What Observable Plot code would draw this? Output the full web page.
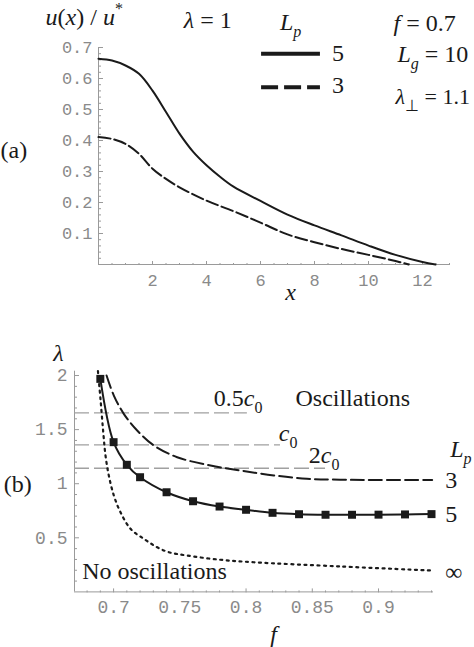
<!DOCTYPE html>
<html><head><meta charset="utf-8">
<script src="https://cdn.jsdelivr.net/npm/d3@7"></script>
<script src="https://cdn.jsdelivr.net/npm/@observablehq/plot@0.6"></script>
<style>
body{margin:0;background:#fff;}
#wrap{width:474px;}
#wrap svg{display:block;}
</style></head><body><div id="wrap"></div>
<script>
// ---------- Panel (a) data ----------
const xA5 = [0,0.5,1,1.5,2,2.5,3,3.5,4,4.5,5,6,7,8,9,10,11,12,12.48];
const uA5 = [0.664,0.658,0.642,0.615,0.561,0.492,0.422,0.364,0.320,0.283,0.251,0.205,0.161,0.126,0.094,0.061,0.031,0.008,0];
const xA3 = [0,0.5,1,1.5,2,2.5,3,4,5,6,7,8,9,10,11,11.49];
const uA3 = [0.411,0.405,0.389,0.357,0.309,0.276,0.249,0.206,0.172,0.135,0.097,0.072,0.050,0.031,0.011,0];
const xTicksA = [2,4,6,8,10,12];
const yTicksA = [0.1,0.2,0.3,0.4,0.5,0.6,0.7];
const legendA = ["5","3"];

// ---------- Panel (b) data ----------
const fLp5 = [0.69,0.70,0.71,0.72,0.74,0.76,0.78,0.80,0.82,0.84,0.86,0.88,0.90,0.92,0.94];
const lamLp5 = [1.969,1.384,1.175,1.060,0.921,0.838,0.789,0.759,0.731,0.718,0.713,0.713,0.714,0.716,0.719];
const fLp3 = [0.6947,0.7002,0.7077,0.7178,0.7304,0.748,0.7732,0.7958,0.821,0.846,0.871,0.90,0.9405];
const lamLp3 = [2.0,1.815,1.646,1.492,1.353,1.245,1.168,1.122,1.077,1.046,1.037,1.034,1.034];
const fInf = [0.6882,0.6901,0.6922,0.6939,0.6964,0.7002,0.7052,0.7128,0.7228,0.7329,0.7417,0.7555,0.7807,0.8058,0.8713,0.9392];
const lamInf = [2.04,1.785,1.476,1.261,1.076,0.891,0.737,0.583,0.491,0.413,0.367,0.336,0.297,0.274,0.235,0.198];
const c0Levels = [1.655,1.359,1.143];
const c0Ends = [0.801,0.826,0.86];
const c0Names = ["0.5c0","c0","2c0"];
const fTicks = [0.7,0.75,0.8,0.85,0.9];
const lamTicks = [0.5,1,1.5,2];
const lpNames = ["3","5","∞"];

// ---------- helpers ----------
const SERIF = "Liberation Serif";
const MONO = "'Liberation Mono', 'DejaVu Sans Mono', monospace";
const INK = "#1a1a1a";
const AX = "#9a9a9a";
const TICKTXT = "#8a8a8a";

const RICH = {
  "u(x) / u*": [["u","i"],["("],["x","i"],[") / "],["u","i"],["*","sup"]],
  "λ = 1": [["λ","i"],[" = 1"]],
  "Lp": [["L","i"],["p","isub"]],
  "f = 0.7": [["f","i"],[" = 0.7"]],
  "Lg = 10": [["L","i"],["g","isub"],[" = 10"]],
  "λ⊥ = 1.1": [["λ","i"],["⊥","sub"],[" = 1.1"]],
  "0.5c0": [["0.5"],["c","i"],["0","sub"]],
  "c0": [["c","i"],["0","sub"]],
  "2c0": [["2"],["c","i"],["0","sub"]],
  "x": [["x","i"]],
  "f": [["f","i"]],
  "λ": [["λ","i"]]
};

function richify(svg){
  const NS = "http://www.w3.org/2000/svg";
  svg.querySelectorAll("text").forEach(t => {
    if (t.querySelector("tspan")) return;
    const segs = RICH[t.textContent];
    if (!segs) return;
    t.textContent = "";
    let shift = 0;
    for (const [s, st = ""] of segs) {
      const sp = document.createElementNS(NS, "tspan");
      sp.textContent = s;
      if (st === "i" || st === "isub") sp.setAttribute("font-style", "italic");
      let target = 0;
      if (st === "sub" || st === "isub") { target = 7; sp.setAttribute("font-size", 16); }
      if (st === "sup") { target = -11; sp.setAttribute("font-size", 16); }
      if (target !== shift) { sp.setAttribute("dy", target - shift); shift = target; }
      t.appendChild(sp);
    }
  });
}

function lab(s, x, y, opts = {}) {
  return Plot.text([s], {x, y, text: d => d, fontFamily: SERIF, fontSize: 24, fill: INK, textAnchor: "start", ...opts});
}

// ---------- Panel (a) ----------
const curveA5 = xA5.map((x, i) => ({x, u: uA5[i]}));
const curveA3 = xA3.map((x, i) => ({x, u: uA3[i]}));
const xMinorA = d3.range(0.5, 13.01, 0.5).filter(v => v % 2 !== 0);
const yMinorA = d3.range(0.02, 0.701, 0.02).filter(v => Math.abs(v * 10 - Math.round(v * 10)) > 1e-6);

const plotA = Plot.plot({
  width: 474, height: 320,
  marginLeft: 98, marginRight: 25, marginTop: 47, marginBottom: 56,
  x: {domain: [0, 13]},
  y: {domain: [0, 0.7]},
  style: {background: "white", overflow: "visible", fontFamily: MONO, fontSize: "17px"},
  marks: [
    Plot.ruleX([0], {stroke: AX}),
    Plot.ruleY([0], {stroke: AX}),
    Plot.axisX(xMinorA, {anchor: "top", frameAnchor: "bottom", tickSize: 2, fill: "none", stroke: AX, label: null}),
    Plot.axisX(xTicksA, {anchor: "top", frameAnchor: "bottom", tickSize: 4, fill: "none", stroke: AX, label: null}),
    Plot.axisX(xTicksA, {anchor: "bottom", tickSize: 0, tickPadding: 9, fontFamily: MONO, fontSize: 17, fill: TICKTXT, label: null, tickFormat: d => String(d)}),
    Plot.axisY(yMinorA, {anchor: "right", frameAnchor: "left", tickSize: 2, fill: "none", stroke: AX, label: null}),
    Plot.axisY(yTicksA, {anchor: "right", frameAnchor: "left", tickSize: 4, fill: "none", stroke: AX, label: null}),
    Plot.axisY(yTicksA, {anchor: "left", tickSize: 0, tickPadding: 6, fontFamily: MONO, fontSize: 17, fill: TICKTXT, label: null, tickFormat: d => String(d)}),
    Plot.line(curveA5, {x: "x", y: "u", stroke: INK, strokeWidth: 2, curve: "catmull-rom"}),
    Plot.line(curveA3, {x: "x", y: "u", stroke: INK, strokeWidth: 2, strokeDasharray: "12,4", curve: "catmull-rom"}),
    // legend
    Plot.ruleY([0.680], {x1: 6.04, x2: 8.22, stroke: INK, strokeWidth: 4}),
    Plot.ruleY([0.572], {x1: 6.04, x2: 8.22, stroke: INK, strokeWidth: 4, strokeDasharray: "17,6"}),
    lab(legendA[0], 8.65, 0.680),
    lab(legendA[1], 8.65, 0.577),
    lab("Lp", 6.72, 0.782),
    // annotations
    lab("u(x) / u*", -1.96, 0.797),
    lab("λ = 1", 3.16, 0.787),
    lab("f = 0.7", 10.93, 0.779),
    lab("Lg = 10", 11.07, 0.677),
    lab("λ⊥ = 1.1", 11.0, 0.542, {fontSize: 22}),
    lab("(a)", -3.63, 0.368),
    lab("x", 7.11, -0.09, {textAnchor: "middle"})
  ]
});
richify(plotA);

// ---------- Panel (b) ----------
const fDomain = [0.6705, 0.9415];
const lp5 = fLp5.map((f, i) => ({f, lam: lamLp5[i]}));
const lp3 = fLp3.map((f, i) => ({f, lam: lamLp3[i]}));
const lpInf = fInf.map((f, i) => ({f, lam: lamInf[i]}));
const c0Lines = c0Levels.map((lam, i) => ({lam, end: c0Ends[i], name: c0Names[i]}));
const fMinor = d3.range(0.68, 0.9401, 0.01).filter(v => Math.abs(v * 20 - Math.round(v * 20)) > 1e-6);
const lamMinor = d3.range(0.1, 2.001, 0.1).filter(v => Math.abs(v * 2 - Math.round(v * 2)) > 1e-6);

const plotB = Plot.plot({
  width: 474, height: 327,
  marginLeft: 74, marginRight: 41, marginTop: 50.7, marginBottom: 55.6,
  x: {domain: fDomain},
  y: {domain: [0, 2.04]},
  style: {background: "white", overflow: "visible", fontFamily: MONO, fontSize: "18px"},
  marks: [
    Plot.ruleX([fDomain[0]], {stroke: AX}),
    Plot.ruleY([0], {stroke: AX}),
    Plot.axisX(fMinor, {anchor: "top", frameAnchor: "bottom", tickSize: 2, fill: "none", stroke: AX, label: null}),
    Plot.axisX(fTicks, {anchor: "top", frameAnchor: "bottom", tickSize: 4, fill: "none", stroke: AX, label: null}),
    Plot.axisX(fTicks, {anchor: "bottom", tickSize: 0, tickPadding: 8, fontFamily: MONO, fontSize: 18, fill: TICKTXT, label: null, tickFormat: d => String(d)}),
    Plot.axisY(lamMinor, {anchor: "right", frameAnchor: "left", tickSize: 2, fill: "none", stroke: AX, label: null}),
    Plot.axisY(lamTicks, {anchor: "right", frameAnchor: "left", tickSize: 4, fill: "none", stroke: AX, label: null}),
    Plot.axisY(lamTicks, {anchor: "left", tickSize: 0, tickPadding: 7, fontFamily: MONO, fontSize: 18, fill: TICKTXT, label: null, tickFormat: d => String(d)}),
    Plot.ruleY(c0Lines, {y: "lam", x1: fDomain[0], x2: "end", stroke: "#a0a0a0", strokeWidth: 1.4, strokeDasharray: "15,5"}),
    Plot.line(lpInf, {x: "f", y: "lam", stroke: INK, strokeWidth: 2.2, strokeDasharray: "2,4.5", curve: "catmull-rom"}),
    Plot.line(lp3, {x: "f", y: "lam", stroke: INK, strokeWidth: 2, strokeDasharray: "13,5", curve: "catmull-rom"}),
    Plot.line(lp5, {x: "f", y: "lam", stroke: INK, strokeWidth: 2, curve: "catmull-rom"}),
    Plot.dot(lp5, {x: "f", y: "lam", symbol: "square", r: 4.5, fill: INK, stroke: "none"}),
    lab("λ", 0.6544, 2.208),
    lab(c0Names[0], 0.7757, 1.792),
    lab("Oscillations", 0.8373, 1.792),
    lab(c0Names[1], 0.8247, 1.464),
    lab(c0Names[2], 0.8474, 1.263),
    lab("Lp", 0.9541, 1.322),
    lab(lpNames[0], 0.9503, 1.030),
    lab(lpNames[1], 0.9503, 0.715),
    lab(lpNames[2], 0.9503, 0.182),
    lab("No oscillations", 0.6763, 0.191),
    lab("(b)", 0.6171, 0.999),
    lab("f", 0.8207, -0.389, {textAnchor: "middle"})
  ]
});
richify(plotB);

document.getElementById("wrap").append(plotA, plotB);
</script>
</body></html>
